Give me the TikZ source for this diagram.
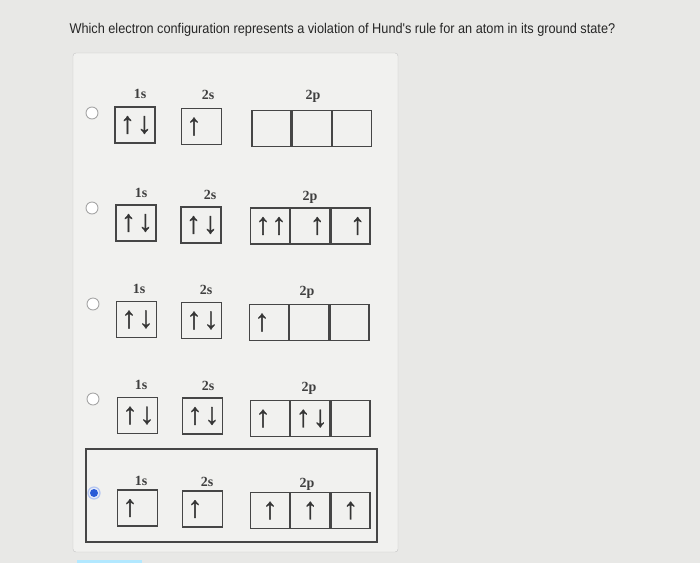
\documentclass[tikz,border=0pt]{standalone}
\usepackage{fontspec}
\setmainfont{Liberation Serif}
\newfontfamily\qfont{Liberation Sans}
\newfontfamily\spinfont{Liberation Serif}[FakeBold=0.9]
\usetikzlibrary{positioning}
\definecolor{bgcol}{RGB}{232,232,230}
\definecolor{panelcol}{RGB}{241,241,239}
\definecolor{inkcol}{RGB}{70,70,70}
\definecolor{radiocol}{RGB}{40,90,215}
\tikzset{
  orb/.style={draw=inkcol, line width=1.3pt, minimum height=36pt, inner xsep=5pt,
    inner ysep=0pt, text width=30pt, align=center, font=\spinfont\fontsize{30}{30}\selectfont, text=inkcol!75!black},
  porb/.style={orb, text width=29pt},
  lbl/.style={font=\fontsize{14}{14}\selectfont\bfseries, text=inkcol!90!black},
  radio/.style={circle, draw=gray!70, line width=0.9pt, fill=white, minimum size=12pt, inner sep=0pt}
}
\begin{document}
\begin{tikzpicture}[x=1pt,y=-1pt]
  \useasboundingbox (0,0) rectangle (700,563);
  \fill[bgcol] (0,0) rectangle (700,563);
  \node[anchor=west, font=\qfont\fontsize{12.6}{14}\selectfont, text=black!85] (question) at (66,30)
    {\scalebox{1.01}[1.12]{Which electron configuration represents a violation of Hund's rule for an atom in its ground state?}};
  % answer panel
  \draw[gray!45, fill=panelcol, rounded corners=3pt] (73,53) rectangle (398,552);
  \draw[inkcol, line width=1.4pt] (86,449) rectangle (377,542);
  \fill[blue!30!cyan!30!white] (77,560) rectangle (142,563);
  % choice 1
  \node[radio] (r1) at (92,113) {};
  \node[lbl] (l1s1) at (140,94) {1s}; \node[lbl] (l2s1) at (208,95) {2s}; \node[lbl] (l2p1) at (313,96) {2p};
  \node[orb] (s1a) at (135,125) {↑\kern2pt↓};
  \node[orb, align=left] (s2a) at (201.5,126.5) {↑};
  \node[porb] (pa1) at (271.5,128.5) {};
  \node[porb, right=0pt of pa1] (pa2) {}; \node[porb, right=0pt of pa2] (pa3) {};
  % choice 2
  \node[radio] (r2) at (92,208) {};
  \node[lbl] (l1s2) at (141,193) {1s}; \node[lbl] (l2s2) at (210,195) {2s}; \node[lbl] (l2p2) at (310,197) {2p};
  \node[orb] (s1b) at (136,223) {↑\kern2pt↓};
  \node[orb] (s2b) at (201,225) {↑\kern2pt↓};
  \node[porb] (pb1) at (270,226) {↑\kern1pt↑};
  \node[porb, align=right, right=0pt of pb1] (pb2) {↑};
  \node[porb, align=right, right=0pt of pb2] (pb3) {↑};
  % choice 3
  \node[radio] (r3) at (93,304) {};
  \node[lbl] (l1s3) at (139,289) {1s}; \node[lbl] (l2s3) at (206,290) {2s}; \node[lbl] (l2p3) at (307,292) {2p};
  \node[orb] (s1c) at (136.5,319.5) {↑\kern2pt↓};
  \node[orb] (s2c) at (201.5,320.5) {↑\kern2pt↓};
  \node[porb, align=left] (pc1) at (269,322.5) {↑};
  \node[porb, right=0pt of pc1] (pc2) {}; \node[porb, right=0pt of pc2] (pc3) {};
  % choice 4
  \node[radio] (r4) at (93,399) {};
  \node[lbl] (l1s4) at (141,385) {1s}; \node[lbl] (l2s4) at (208,386) {2s}; \node[lbl] (l2p4) at (309,388) {2p};
  \node[orb] (s1d) at (137.5,415.5) {↑\kern2pt↓};
  \node[orb] (s2d) at (202.5,416) {↑\kern2pt↓};
  \node[porb, align=left] (pd1) at (270,418.5) {↑};
  \node[porb, right=0pt of pd1] (pd2) {↑\kern2pt↓}; \node[porb, right=0pt of pd2] (pd3) {};
  % choice 5 (selected)
  \node[radio, draw=radiocol!35, fill=radiocol!12, line width=1.2pt] (r5) at (94,493) {};
  \fill[radiocol] (r5) circle (4pt);
  \node[lbl] (l1s5) at (141,481) {1s}; \node[lbl] (l2s5) at (207,482) {2s}; \node[lbl] (l2p5) at (307,484.5) {2p};
  \node[orb, align=left] (s1e) at (137.5,508) {↑};
  \node[orb, align=left] (s2e) at (202.5,509) {↑};
  \node[porb] (pe1) at (270,510.5) {↑};
  \node[porb, right=0pt of pe1] (pe2) {↑}; \node[porb, right=0pt of pe2] (pe3) {↑};
\end{tikzpicture}
\end{document}
